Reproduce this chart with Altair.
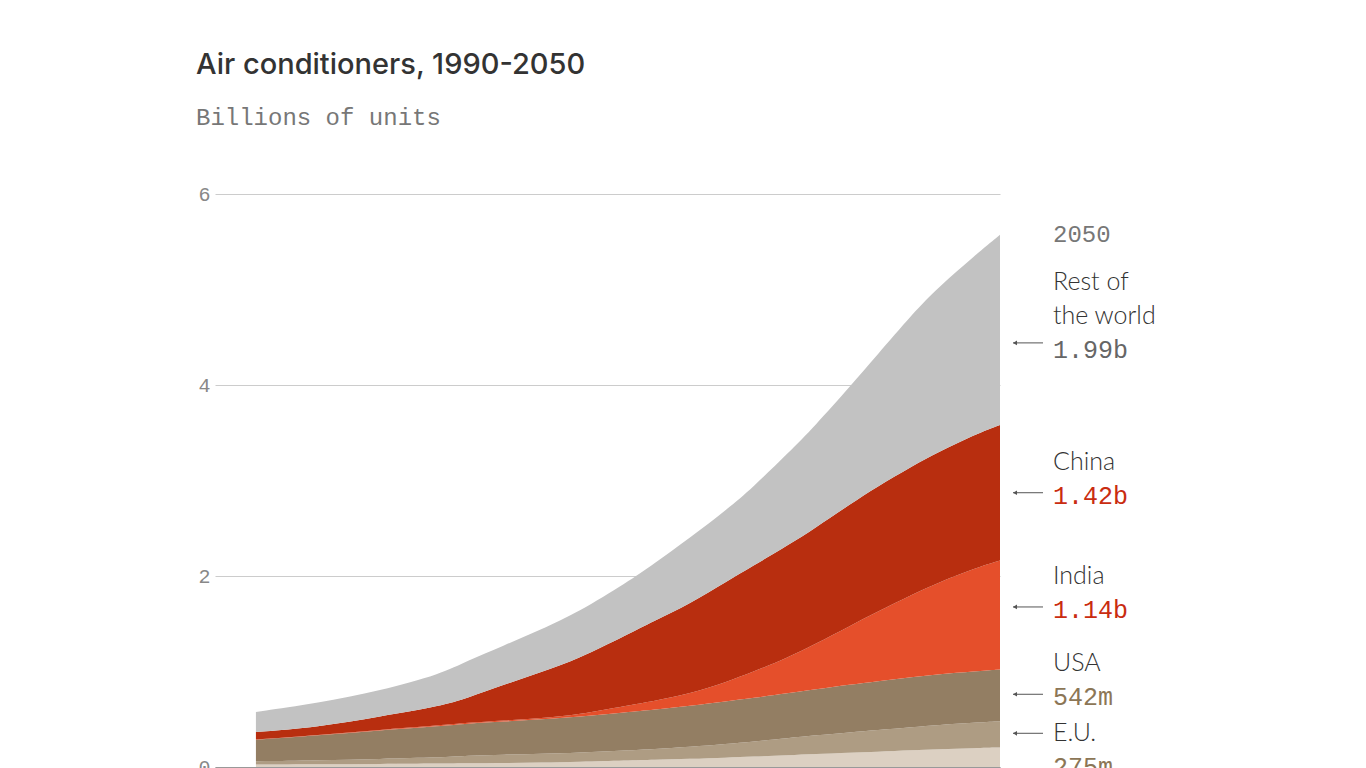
import altair as alt
import pandas as pd

# ---- data (billions of units) ----
years = [1990, 1995, 2000, 2005, 2007, 2010, 2013, 2016, 2020, 2022, 2025, 2028, 2030, 2033, 2035,
         2038, 2040, 2043, 2045, 2048, 2050]
other = [0.025, 0.028, 0.032, 0.036, 0.040, 0.042, 0.046, 0.055, 0.070, 0.076, 0.085, 0.099, 0.108,
         0.124, 0.135, 0.150, 0.160, 0.175, 0.185, 0.197, 0.205]
eu    = [0.035, 0.042, 0.053, 0.064, 0.080, 0.088, 0.091, 0.095, 0.105, 0.112, 0.125, 0.144, 0.157,
         0.180, 0.195, 0.214, 0.225, 0.243, 0.255, 0.268, 0.275]
usa   = [0.225, 0.260, 0.300, 0.330, 0.335, 0.345, 0.363, 0.375, 0.400, 0.412, 0.430, 0.446, 0.455,
         0.470, 0.480, 0.500, 0.512, 0.524, 0.530, 0.538, 0.542]
india = [0.002, 0.003, 0.005, 0.007, 0.008, 0.010, 0.012, 0.022, 0.070, 0.090, 0.125, 0.205, 0.270,
         0.380, 0.470, 0.620, 0.720, 0.870, 0.960, 1.080, 1.140]
china = [0.080, 0.085, 0.139, 0.205, 0.257, 0.377, 0.480, 0.585, 0.745, 0.832, 0.945, 1.050, 1.110,
         1.175, 1.215, 1.275, 1.310, 1.345, 1.365, 1.400, 1.420]
rest  = [0.210, 0.250, 0.270, 0.335, 0.390, 0.410, 0.450, 0.490, 0.550, 0.598, 0.690, 0.756, 0.818,
         0.971, 1.065, 1.241, 1.373, 1.598, 1.725, 1.877, 1.990]

series_names = ["Other", "E.U.", "USA", "India", "China", "Rest of the world"]
series_vals = [other, eu, usa, india, china, rest]
series_colors = ["#dcd0c2", "#ae9c83", "#937e63", "#e54f2b", "#b82e0f", "#c2c2c2"]

label_series = ["Rest of the world", "China", "India", "USA", "E.U."]
label_names = [["Rest of", "the world"], ["China"], ["India"], ["USA"], ["E.U."]]
label_values = ["1.99b", "1.42b", "1.14b", "542m", "275m"]
label_year = "2050"
y_ticks = [0, 2, 4, 6]

title_text = "Air conditioners, 1990-2050"
subtitle_text = "Billions of units"

# ---- tables ----
rows = []
for i, yr in enumerate(years):
    for k, (name, vals) in enumerate(zip(series_names, series_vals)):
        rows.append({"year": yr, "series": name, "value": vals[i], "order": k})
df = pd.DataFrame(rows)

cum = 0.0
mids = {}
for name, vals in zip(series_names, series_vals):
    mids[name] = cum + vals[-1] / 2
    cum += vals[-1]

lab_rows = []
for s, v in zip(label_series, label_values):
    lab_rows.append({"series": s, "year": years[-1], "mid": mids[s], "val": v})
lab_df = pd.DataFrame(lab_rows)

# ---- styles ----
SANS = "Lato"
MONO = "Liberation Mono"
value_colors = {"Rest of the world": "#666666", "China": "#c92c10", "India": "#c92c10",
                "USA": "#8c7656", "E.U.": "#8c7656"}
nudge = {"Rest of the world": 13, "China": 0, "India": -8, "USA": -1, "E.U.": -1}
name_dy = {"Rest of the world": [-61, -27], "China": [-31], "India": [-31], "USA": [-31], "E.U.": [0]}
value_dy = {"Rest of the world": 7, "China": 3, "India": 3, "USA": 3, "E.U.": 34}

x_axis = alt.Axis(title=None, grid=False, ticks=False, labels=False, domainColor="#999999")
y_axis = alt.Axis(values=y_ticks, format="d", title=None, domain=False, ticks=False,
                  labelPadding=5, grid=True, gridColor="#cccccc",
                  labelFont=MONO, labelFontSize=20, labelColor="#888888")
x_scale = alt.Scale(domain=[1986.7, 2050], nice=False, zero=False)
y_scale = alt.Scale(domain=[0, 6], nice=False)

areas = alt.Chart(df).mark_area(interpolate="basis").encode(
    x=alt.X("year:Q", scale=x_scale, axis=x_axis),
    y=alt.Y("value:Q", stack="zero", scale=y_scale, axis=y_axis),
    color=alt.Color("series:N", scale=alt.Scale(domain=series_names, range=series_colors), legend=None),
    order=alt.Order("order:Q"),
)

layers = [areas]
base = alt.Chart(lab_df)
xl = alt.X("year:Q", scale=x_scale, axis=x_axis)
yl = alt.Y("mid:Q", scale=y_scale, axis=y_axis)
for s in label_series:
    src = base.transform_filter(alt.datum.series == s)
    n = nudge[s]
    layers.append(src.mark_rule(color="#555555", strokeWidth=1, xOffset=13, x2Offset=43, yOffset=n)
                  .encode(x=xl, x2="year:Q", y=yl))
    layers.append(src.mark_point(shape="triangle-left", size=22, filled=True, opacity=1,
                                 color="#555555", xOffset=15, yOffset=n)
                  .encode(x=xl, y=yl))
    for line, d in zip(label_names[label_series.index(s)], name_dy[s]):
        layers.append(src.mark_text(align="left", baseline="middle", dx=53, dy=n + d,
                                    font=SANS, fontSize=25, fontWeight=300, color="#333333")
                      .encode(x=xl, y=yl, text=alt.value(line)))
    layers.append(src.mark_text(align="left", baseline="middle", dx=53, dy=n + value_dy[s],
                                font=MONO, fontSize=25, color=value_colors[s])
                  .encode(x=xl, y=yl, text="val:N"))
    if s == label_series[0]:
        layers.append(src.mark_text(align="left", baseline="middle", dx=53, dy=n - 108,
                                    font=MONO, fontSize=24, color="#777777")
                      .encode(x=xl, y=yl, text=alt.value(label_year)))

chart = alt.layer(*layers).properties(
    width=785,
    height=573,
    autosize=alt.AutoSizeParams(type="none"),
    padding={"left": 207, "top": 186, "right": 200, "bottom": 60},
    title=alt.Title(title_text, subtitle=subtitle_text, anchor="start", frame="group",
                    dx=-19, offset=54, font="Inter", fontSize=29, fontWeight=500, color="#333333",
                    subtitleFont=MONO, subtitleFontSize=24, subtitleColor="#777777",
                    subtitlePadding=26),
).configure_view(stroke=None)

chart.save("out.html", embed_options={"renderer": "svg", "actions": False})
